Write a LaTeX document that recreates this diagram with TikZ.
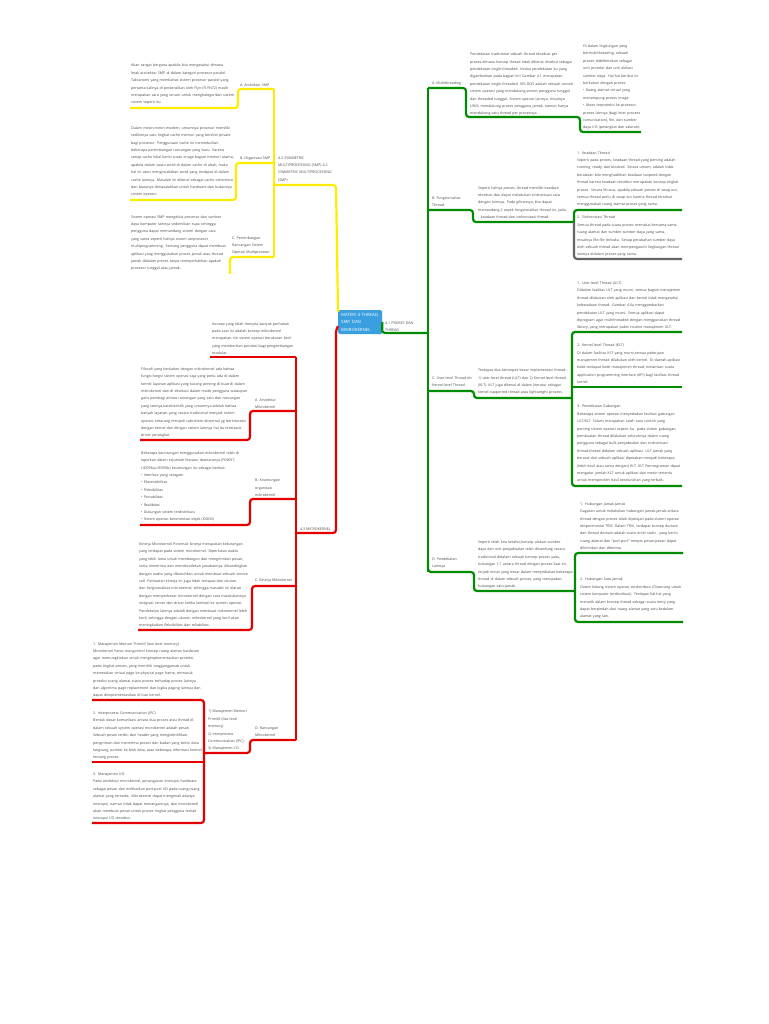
\documentclass[tikz,border=0pt]{standalone}
\usepackage{fontspec}
\setmainfont{Open Sans}
\hyphenpenalty=10000
\exhyphenpenalty=10000
\begin{document}
\begin{tikzpicture}[x=1pt,y=-1pt,
  txt/.style={font=\fontsize{3.6}{7.4}\selectfont, text=black!70, align=left, inner sep=0pt, anchor=south west},
  lbl/.style={txt},
  yl/.style={draw=yellow!95!orange, line width=2.2pt, rounded corners=3pt},
  gl/.style={draw=green!55!black, line width=2.2pt, rounded corners=3pt},
  gr/.style={draw=black!60, line width=2.2pt, rounded corners=3pt},
  rl/.style={draw=red!90!black, line width=2.2pt, rounded corners=3pt}]
\useasboundingbox (0,0) rectangle (768,1024);
\fill[white] (0,0) rectangle (768,1024);

% ---------- central
\node[fill=cyan!75!blue!80, rounded corners=2pt, text=white, font=\fontsize{4.3}{7.4}\selectfont, align=left, text width=38pt, inner sep=3pt, anchor=north west] (root) at (338,310) {MATERI 4 THREAD, SMP, DAN MIKROKERNEL};

% ---------- yellow
\node[lbl, text width=55pt] (y42) at (278,182) {4.2 SYMMETRIC MULTIPROCESSING (SMP) 4.2 SYMMETRIC MULTIPROCESSING (SMP)};
\coordinate (yr) at (338,312);
\draw[yl] (yr) -- (336,185) -- (274,185);
\draw[yl] (274,89) -- (274,257);
\node[lbl] (yA) at (240,87) {A. Arsitektur SMP};
\node[txt, text width=105pt] (yAt) at (131,105) {Akan sangat berguna apabila kita mengetahui dimana letak arsitektur SMP di dalam kategori prosesor paralel. Taksonomi yang membahas sistem prosesor paralel yang pertama kalinya di perkenalkan oleh Flyn (FLYN72) masih merupakan cara yang umum untuk mengkategorikan sistem sistem seperti itu.};
\draw[yl] (274,89) -- (238,89) -- (238,108) -- (130,108);
\node[lbl] (yB) at (240,161) {B. Organisasi SMP};
\node[txt, text width=104pt] (yBt) at (131,197) {Dalam mesin-mesin modern, umumnya prosesor memiliki sedikitnya satu tingkat cache memori yang bersifat private bagi prosesor. Penggunaan cache ini menimbulkan beberapa pertimbangan rancangan yang baru. Karena setiap cache lokal berisi suatu image bagian memori utama, apabila dalam suatu word di dalam cache di ubah, maka hal ini akan menginvalidkan word yang terdapat di dalam cache lainnya. Masalah ini dikenal sebagai cache coherence dan biasanya dimasalahkan untuk hardware dan bukannya sistem operasi.};
\draw[yl] (274,163) -- (236,163) -- (236,200) -- (130,200);
\node[lbl, text width=40pt] (yC) at (232,255) {C. Pertimbangan Rancangan Sistem Operasi Multiprosesor};
\node[txt, text width=98pt] (yCt) at (131,271) {Sistem operasi SMP mengelola prosesor dan sumber daya komputer lainnya sedemikian rupa sehingga pengguna dapat memandang sistem dengan cara yang sama seperti halnya sistem uniprosesor multiprogramming. Seorang pengguna dapat membuat aplikasi yang menggunakan proses jamak atau thread jamak didalam proses tanpa memperhatikan apakah prosesor tunggal atau jamak.};
\draw[yl] (274,257) -- (230,257) -- (230,274);

% ---------- green
\node[lbl, text width=40pt] (g41) at (385,332) {4.1 PROSES DAN THREAD};
\draw[gl] (root.east) -- (382,333) -- (428,333);
\draw[gl] (428,88) -- (428,572);
% A
\node[lbl] (gA) at (432,86) {A. Multithreading};
\node[txt, text width=108pt] (gAt) at (470,116) {Pendekatan tradisional sebuah thread eksekusi per proses,dimana konsep thread tidak dikenal, disebut sebagai pendekatan single-threaded. Kedua pendekatan itu yang digambarkan pada bagian kiri Gambar 4.1 merupakan pendekatan single threaded. MS-DOS adalah sebuah contoh sistem operasi yang mendukung proses pengguna tunggal dan threaded tunggal. Sistem operasi lainnya, misalnya UNIX, mendukung proses pengguna jamak, namun hanya mendukung satu thread per prosesnya.};
\node[txt, text width=58pt] (gAr) at (583,130) {Di dalam lingkungan yang bermultithreading, sebuah proses didefenisikan sebagai unit proteksi dan unit alokasi sumber daya. Hal hal berikut ini berkaitan dengan proses:\\• Ruang alamat virtual yang menampung proses image\\• Akses terproteksi ke prosesor, proses lainnya (bagi inter process comunication), file, dan sumber daya I/O (perangkat dan saluran).};
\draw[gl] (428,88) -- (466,88) -- (466,117) -- (580,117) -- (580,132) -- (641,132);
% B
\node[lbl, text width=38pt] (gB) at (432,207) {B. Fungsionalitas Thread};
\node[txt, text width=92pt] (gBt) at (478,219) {Seperti halnya proses, thread memiliki keadaan eksekusi dan dapat melakukan sinkronisasi satu dengan lainnya. Pada gilirannya, kita dapat memandang 2 aspek fungsionalitas thread ini, yaitu : keadaan thread dan sinkronisasi thread.};
\node[txt, text width=104pt] (gB1) at (577,207) {1. Keadaan Thread\\Seperti pada proses, keadaan thread yang penting adalah running, ready, dan blocked. Secara umum, adalah tidak beralasan bila menghadirkan keadaan suspend dengan thread karena keadaan tersebut merupakan konsep tingkat proses. Secara khusus, apabila sebuah proses di swap out, semua thread perlu di swap out karena thread tersebut menggunakan ruang alamat proses yang sama.};
\node[txt, text width=104pt] (gB2) at (577,257) {2. Sinkronisasi Thread\\Semua thread pada suatu proses memakai bersama-sama ruang alamat dan sumber-sumber daya yang sama, misalnya file-file terbuka. Setiap perubahan sumber daya oleh sebuah thread akan mempengaruhi lingkungan thread lainnya didalam proses yang sama.};
\draw[gl] (428,210) -- (473,210) -- (473,222) -- (574,222);
\draw[gl] (574,222) -- (574,210) -- (682,210);
\draw[gr] (574,222) -- (574,259) -- (682,259);
% C
\node[lbl, text width=40pt] (gC) at (432,387) {C. User-level Thread dn Kernel-level Thread};
\node[txt, text width=93pt] (gCt) at (478,395) {Terdapat dua kelompok besar implementasi thread : 1) user-level thread (ULT) dan 2) Kernel-level thread (KLT). KLT juga dikenal di dalam literatur sebagai kernel-supported thread atau lightweight process.};
\node[txt, text width=104pt] (gC1) at (577,330) {1. User-level Thread (ULT)\\Didalam fasilitas ULT yang murni, semua bagian manajemen thread dilakukan oleh aplikasi dan kernel tidak mengetahui keberadaan thread. Gambar 4.6a menggambarkan pendekatan ULT yang murni. Semua aplikasi dapat diprogram agar multithreaded dengan menggunakan thread library, yang merupakan paket routine manajemen ULT.};
\node[txt, text width=104pt] (gC2) at (577,384) {2. Kernel-level Thread (KLT)\\Di dalam fasilitas KLT yang murni,semua pekerjaan manajemen thread dilakukan oleh kernel. Di daerah aplikasi tidak terdapat kode manajemen thread, melainkan suatu application programming interface (API) bagi fasilitas thread kernel.};
\node[txt, text width=104pt] (gC3) at (577,483) {3. Pendekatan Gabungan\\Beberapa sistem operasi menyediakan fasilitas gabungan ULT/KLT. Solaris merupakan salah satu contoh yang penting sistem operasi seperti itu. pada sistem gabungan, pembuatan thread dilakukan seluruhnya dalam ruang pengguna sebagai bulk penjadwalan dan sinkronisasi thread-thread didalam sebuah aplikasi. ULT jamak yang berasal dari sebuah aplikasi dipetakan menjadi beberapa (lebih kecil atau sama dengan) KLT. KLT Pemrograman dapat mengatur jumlah KLT untuk aplikasi dan mesin tertentu untuk memperoleh hasil keseluruhan yang terbaik.};
\draw[gl] (428,391) -- (474,391) -- (474,398) -- (572,398);
\draw[gl] (682,332) -- (572,332) -- (572,486) -- (682,486);
\draw[gl] (572,387) -- (682,387);
% D
\node[lbl, text width=35pt] (gD) at (432,569) {D. Pendekatan Lainnya};
\node[txt, text width=96pt] (gDt) at (478,589) {Seperti telah kita ketahui,konsep alokasi sumber daya dan unit penjadwalan telah dikandung secara tradisional didalam sebuah konsep proses yaitu, hubungan 1:1 antara thread dengan proses.Saat ini, terjadi minat yang besar dalam menyediakan beberapa thread di dalam sebuah proses, yang merupakan hubungan satu-jamak.};
\node[txt, text width=104pt] (gD1) at (580,550) {1. Hubungan Jamak-Jamak\\Gagasan untuk melakukan hubungan jamak-jamak antara thread dengan proses telah dipelajari pada sistem operasi eksperimental TRIX. Dalam TRIX, terdapat konsep domain dan thread domain adalah suatu entiti statis , yang berisi ruang alamat dan "port-port" tempat pesan-pesan dapat dikirimkan dan diterima.};
\node[txt, text width=104pt] (gD2) at (580,619) {2. Hubungan Satu-Jamak\\Dalam bidang sistem operasi terdistribusi (Dirancang untuk sistem komputer terdistribusi). Terdapat hal-hal yang menarik dalam konsep thread sebagai suatu entry yang dapat berpindah dari ruang alamat yang satu kedalam alamat yang lain.};
\draw[gl] (428,560) -- (428,572) -- (474,572) -- (474,591) -- (575,591);
\draw[gl] (683,553) -- (575,553) -- (575,622) -- (683,622);

% ---------- red
\node[lbl] (r43) at (300,531) {4.3 MICROKERNEL};
\draw[rl] (root.west) ++(0,4) -- (336,330) -- (336,533) -- (296,533);
\draw[rl] (296,357) -- (296,740);
\node[txt, text width=84pt] (r0) at (212,355) {Konsep yang telah menyita banyak perhatian pada saat ini adalah konsep mikrokernel merupakan inti sistem operasi berukuran kecil yang memberikan pondasi bagi pengembangan modular.};
\draw[rl] (296,357) -- (210,357);
\node[lbl, text width=30pt] (rA) at (255,409) {A. Arsitektur Mikrokernel};
\node[txt, text width=107pt] (rAt) at (141,438) {Filosofi yang berkaitan dengan mikrokernel ada bahwa fungsi-fungsi sistem operasi saja yang perlu ada di dalam kernel layanan aplikasi yang kurang penting di buat di dalam mikrokernel dan di eksekusi dalam mode pengguna walaupun garis pembagi antara rancangan yang satu dan rancangan yang lainnya,karakteristik yang umumnya adalah bahwa banyak layanan yang secara tradisional menjadi sistem operasi sekarang menjadi subsistem eksternal yg berinteraksi dengan kernel dan dengan sistem lainnya hal itu termasuk driver perangkat.};
\draw[rl] (296,411) -- (250,411) -- (250,440) -- (140,440);
\node[lbl, text width=36pt] (rB) at (255,497) {B. Keuntungan organisasi mikrokernel};
\node[txt, text width=107pt] (rBt) at (141,522) {Beberapa keuntungan menggunakan mikrokernel telah di laporkan dalam sejumlah literatur diantaranya (FINK97, LIED96a,LIED96b) keuntungan itu sebagai berikut:\\• Interface yang seragam\\• Ekstensibilitas\\• Fleksibilitas\\• Portabilitas\\• Realibitas\\• Dukungan sistem terdistribusi\\• Sistem operasi berorientasi objek (OOOS)};
\draw[rl] (296,499) -- (250,499) -- (250,525) -- (140,525);
\node[lbl] (rC) at (255,583) {C. Kinerja Mikrokernel};
\node[txt, text width=112pt] (rCt) at (139,628) {Kinerja Microkernel Potensial kinerja merupakan kekurangan yang terdapat pada sistem microkernel. Diperlukan waktu yang lebih lama untuk membangun dan mengirimkan pesan, serta menerima dan mendecodekan jawabannya, dibandingkan dengan waktu yang dibutuhkan untuk membuat sebuah service call. Pemuatan kinerja ini juga tidak tertapas dari ukuran dan fungsionalitas microkernel, sehingga masalah ini diatasi dengan memperbesar microkernel dengan cara malakukannya integrasi server dan driver ketika kembali ke system operasi. Pendekatan lainnya adalah dengan membuat mikrokernel lebih kecil, sehingga dengan ukuran mikrokernel yang kecil akan meningkatkan fleksibilitas dan reliabilitas.};
\draw[rl] (296,586) -- (252,586) -- (252,630) -- (138,630);
\node[lbl, text width=33pt] (rD) at (255,737) {D. Rancangan Mikrokernel};
\node[txt, text width=42pt] (rDt) at (208,751) {1) Manajemen Memori Primitif (low level memory)\\2) Interprocess Communication (IPC)\\3) Manajemen I/O};
\draw[rl] (296,740) -- (250,740) -- (250,753) -- (204,753);
\draw[rl] (92,700) -- (204,700) -- (204,823) -- (92,823);
\draw[rl] (204,762) -- (92,762);
\node[txt, text width=110pt] (rD1) at (93,698) {1. Manajemen Memori Primitif (low level memory)\\Microkernel harus mengontrol konsep ruang alamat hardware agar memungkinkan untuk mengimplementasikan proteksi pada tingkat proses, yang memiliki tanggungjawab untuk memetakan virtual page ke physical page frame, termasuk proteksi ruang alamat suatu proses terhadap proses lainnya dan algoritma page replacement dan logika paging lainnya dan dapat diimplementasikan di luar kernel.};
\node[txt, text width=110pt] (rD2) at (93,760) {2. Interprocess Communication (IPC)\\Bentuk dasar komunikasi antara dua proses atau thread di dalam sebuah system operasi microkernel adalah pesan. Sebuah pesan terdiri dari header yang mengidentifikasi pengiriman dan menerima proses dan badan yang berisi data langsung, pointer ke blok data, atau beberapa informasi kontrol, tentang proses.};
\node[txt, text width=110pt] (rD3) at (93,821) {3. Manajemen I/O\\Pada arsitektur microkernel, penanganan interupsi hardware sebagai pesan dan melibatkan port-port I/O pada ruang-ruang alamat yang tersedia. Microkernel dapat mengenali adanya interupsi, namun tidak dapat menanganinya, dan microkernel akan membuat pesan untuk proses tingkat pengguna terkait interupsi I/O tersebut.};
\end{tikzpicture}
\end{document}
